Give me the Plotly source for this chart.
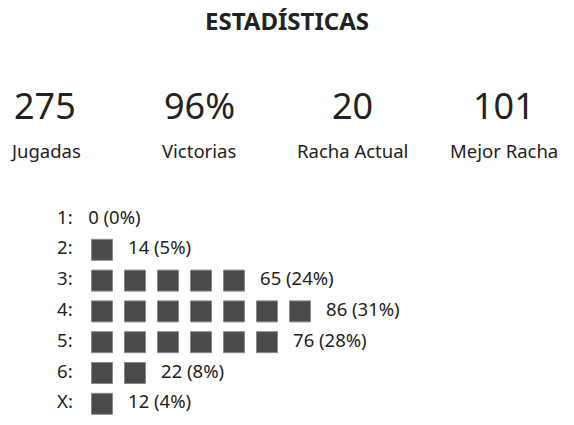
import plotly.graph_objects as go

title = "ESTADÍSTICAS"
stat_values = ["275", "96%", "20", "101"]
stat_labels = ["Jugadas", "Victorias", "Racha Actual", "Mejor Racha"]

rows = ["1", "2", "3", "4", "5", "6", "X"]
counts = [0, 14, 65, 86, 76, 22, 12]
percents = [0, 5, 24, 31, 28, 8, 4]
squares = [0, 1, 5, 7, 6, 2, 1]

W, H = 574, 425
FONT = "Noto Sans"
TXT = "#222222"

fig = go.Figure()

# squares
sx, sy = [], []
for i, n in enumerate(squares):
    for k in range(n):
        sx.append(k)
        sy.append(i)
fig.add_trace(go.Scatter(
    x=sx, y=sy, mode="markers",
    marker=dict(symbol="square", size=21, color="#4a4a4a",
                line=dict(color="#8a8a8a", width=1)),
    hoverinfo="skip", showlegend=False))

# row labels
fig.add_trace(go.Scatter(
    x=[-1.36] * len(rows), y=list(range(len(rows))), mode="text",
    text=[r + ":" for r in rows], textposition="middle right",
    textfont=dict(family=FONT, size=18.5, color=TXT),
    hoverinfo="skip", showlegend=False))

# count labels
tx = [n - 0.21 if n > 0 else -0.42 for n in squares]
fig.add_trace(go.Scatter(
    x=tx, y=list(range(len(rows))), mode="text",
    text=[f"{c} ({p}%)" for c, p in zip(counts, percents)],
    textposition="middle right",
    textfont=dict(family=FONT, size=18.5, color=TXT),
    hoverinfo="skip", showlegend=False))


def px(x):
    return x / W


def py(y):
    return 1 - y / H


# top stats
ann = [dict(text=f"<b>{title}</b>", x=px(287), y=py(20), xref="paper", yref="paper",
            showarrow=False, font=dict(family=FONT, size=24, color=TXT),
            xanchor="center", yanchor="middle")]
cols = [45, 199, 352, 504]
for cx, v, l in zip(cols, stat_values, stat_labels):
    ann.append(dict(text=v, x=px(cx), y=py(106), xref="paper", yref="paper",
                    showarrow=False, font=dict(family=FONT, size=36, color=TXT),
                    xanchor="center", yanchor="middle"))
    ann.append(dict(text=l, x=px(cx), y=py(151), xref="paper", yref="paper",
                    showarrow=False, font=dict(family=FONT, size=18.5, color=TXT),
                    xanchor="center", yanchor="middle"))

pitch = 33.0
x0px = 102.0
r0 = -x0px / pitch
r1 = r0 + W / pitch
rowpitch = 30.8
y0px = 219.0
B = -y0px / rowpitch
A = B + H / rowpitch

fig.update_layout(
    width=W, height=H, margin=dict(l=0, r=0, t=0, b=0),
    paper_bgcolor="white", plot_bgcolor="white",
    xaxis=dict(range=[r0, r1], visible=False, fixedrange=True),
    yaxis=dict(range=[A, B], visible=False, fixedrange=True),
    annotations=ann,
)

fig.write_html("out.html", config={"displayModeBar": False},
               post_script="document.body.style.margin='0px';")
